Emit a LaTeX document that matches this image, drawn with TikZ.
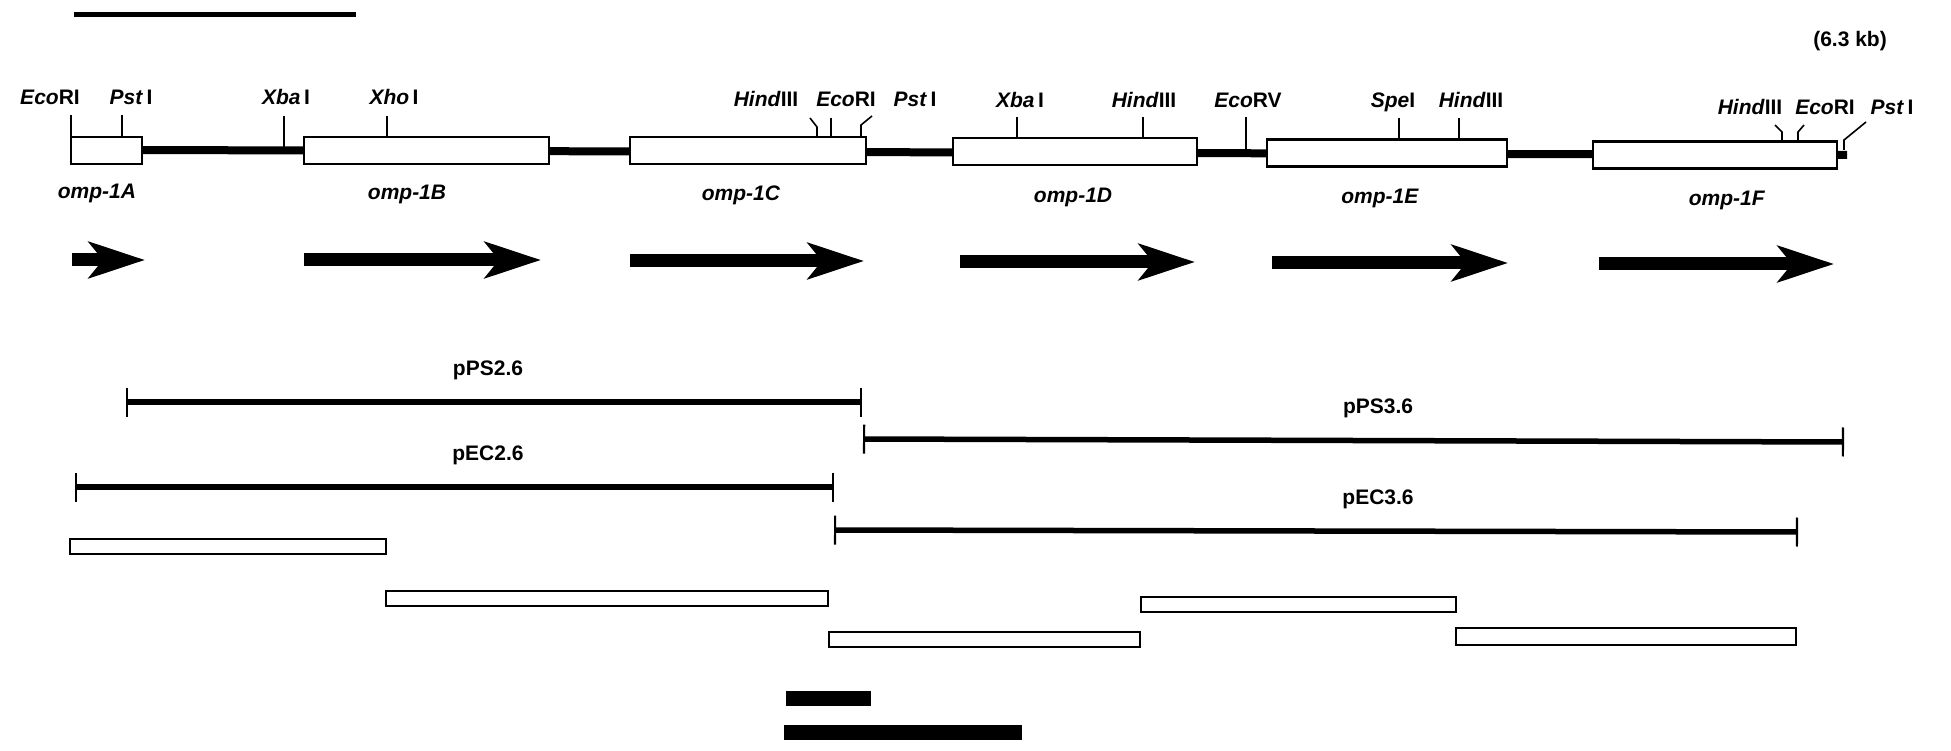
\documentclass[tikz,border=0pt]{standalone}
\usepackage{fontspec}
\setmainfont{Liberation Sans}
\usetikzlibrary{positioning, calc, arrows.meta}

\newcommand{\enz}[2]{\textit{#1}#2}

\begin{document}
\begin{tikzpicture}[x=1pt, y=-1pt, >=stealth,
    every node/.style={font=\bfseries\fontsize{21}{24}\selectfont, inner sep=0pt},
    gene/.style={draw, line width=2.5pt, fill=white, minimum height=27pt, inner sep=0pt},
    site/.style={line width=1.6pt},
    genearrow/.style={line width=13pt, -{Stealth[length=56pt, width=36pt, inset=14pt]}},
    fragment/.style={line width=5.5pt, {Bar[width=29pt, line width=2.2pt]}-{Bar[width=29pt, line width=2.2pt]}},
    clonebox/.style={draw, line width=2.5pt, fill=white}]
    \useasboundingbox (0,0) rectangle (1951,751);

    % Scale bar and size
    \draw[line width=5pt] (74,15) -- (356,15);
    \node[anchor=base] (size) at (1850,47) {(6.3 kb)};

    % Backbone
    \draw[line width=8pt] (142,150) -- (1847,155);

    % Genes
    \node[gene, minimum width=71pt]  (A) at (106.5,150.5) {};
    \node[gene, minimum width=245pt] (B) at (426.5,150.5) {};
    \node[gene, minimum width=236pt] (C) at (748,150.5) {};
    \node[gene, minimum width=244pt] (D) at (1075,151.5) {};
    \node[gene, minimum width=240pt] (E) at (1387,153) {};
    \node[gene, minimum width=244pt] (F) at (1715,155) {};

    \node (labA) at (97,193)   {\textit{omp-1A}};
    \node (labB) at (407,194)  {\textit{omp-1B}};
    \node (labC) at (741,195)  {\textit{omp-1C}};
    \node (labD) at (1073,197) {\textit{omp-1D}};
    \node (labE) at (1380,198) {\textit{omp-1E}};
    \node (labF) at (1727,200) {\textit{omp-1F}};

    % Restriction sites
    \foreach \x/\ya/\yb in {71/115/137, 122/115/137, 284/116/150, 387/116/137,
        831/118/137, 1017/117/138, 1143/117/138, 1246/117/152,
        1399/118/139, 1459/118/139}
        \draw[site] (\x,\ya) -- (\x,\yb);
    \draw[site] (810,118) -- (817,127) -- (817,137);
    \draw[site] (872,116) -- (861,125) -- (861,137);
    \draw[site] (1775,125) -- (1782,132) -- (1782,142);
    \draw[site] (1804,125) -- (1798,132) -- (1798,142);
    \draw[site] (1866,122) -- (1844,140) -- (1844,150);

    \node[anchor=base] (s1)  at (50,105)   {\enz{Eco}{RI}};
    \node[anchor=base] (s2)  at (131,105)  {\enz{Pst}{\,I}};
    \node[anchor=base] (s3)  at (286,105)  {\enz{Xba}{\,I}};
    \node[anchor=base] (s4)  at (394,105)  {\enz{Xho}{\,I}};
    \node[anchor=base] (s5)  at (766,107)  {\enz{Hind}{III}};
    \node[anchor=base] (s6)  at (846,107)  {\enz{Eco}{RI}};
    \node[anchor=base] (s7)  at (915,107)  {\enz{Pst}{\,I}};
    \node[anchor=base] (s8)  at (1020,108) {\enz{Xba}{\,I}};
    \node[anchor=base] (s9)  at (1144,108) {\enz{Hind}{III}};
    \node[anchor=base] (s10) at (1248,108) {\enz{Eco}{RV}};
    \node[anchor=base] (s11) at (1393,108) {\enz{Spe}{I}};
    \node[anchor=base] (s12) at (1471,108) {\enz{Hind}{III}};
    \node[anchor=base] (s13) at (1750,115) {\enz{Hind}{III}};
    \node[anchor=base] (s14) at (1825,115) {\enz{Eco}{RI}};
    \node[anchor=base] (s15) at (1892,115) {\enz{Pst}{\,I}};

    % Transcription direction
    \draw[genearrow] (72,260) -- (145,260);
    \draw[genearrow] (304,260) -- (541,260);
    \draw[genearrow] (630,261) -- (864,261);
    \draw[genearrow] (960,262) -- (1195,262);
    \draw[genearrow] (1272,263) -- (1508,263);
    \draw[genearrow] (1599,264) -- (1834,264);

    % Cloned fragments
    \draw[fragment] (126,402) -- (862,402);
    \node (pPS26) at (488,370) {pPS2.6};
    \draw[fragment] (863,439) -- (1844,442);
    \node (pPS36) at (1378,408) {pPS3.6};
    \draw[fragment] (75,487) -- (834,487);
    \node (pEC26) at (488,455) {pEC2.6};
    \draw[fragment] (834,530) -- (1798,532);
    \node (pEC36) at (1378,499) {pEC3.6};

    % Subclones and probes
    \foreach \xa/\ya/\xb/\yb in {70/539/386/554, 386/591/828/606, 829/632/1140/647,
        1141/597/1456/612, 1456/628/1796/645}
        \draw[clonebox] (\xa,\ya) rectangle (\xb,\yb);
    \fill (786,691) rectangle (871,706);
    \fill (784,725) rectangle (1022,740);
\end{tikzpicture}
\end{document}
